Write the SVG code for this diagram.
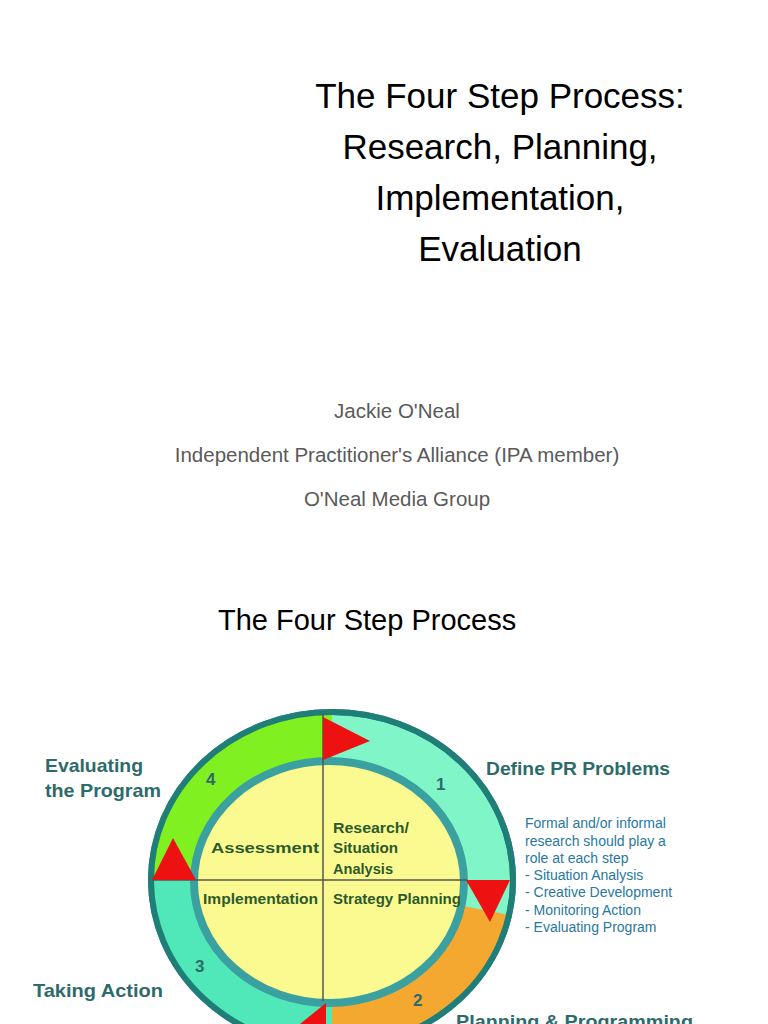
<svg xmlns="http://www.w3.org/2000/svg" width="768" height="1024" viewBox="0 0 768 1024">
<style>
.t{font-family:"Liberation Sans",Arial,sans-serif;fill:#000}
.s{font-family:"Liberation Sans",Arial,sans-serif;fill:#5a5a5a;font-size:20.5px}
.b{font-family:"Liberation Sans",Arial,sans-serif;font-weight:bold;fill:#2d6b6b}
.q{font-family:"Liberation Sans",Arial,sans-serif;font-weight:bold;fill:#2d5a2d;font-size:14px}
.n{font-family:"Liberation Sans",Arial,sans-serif;fill:#2878a0;font-size:14px}
.tri{fill:#ee1111}
</style>
<rect width="768" height="1024" fill="#fff"/>
<g id="title" class="t" font-size="35" text-anchor="middle">
<text x="500" y="108">The Four Step Process:</text>
<text x="500" y="159">Research, Planning,</text>
<text x="500" y="210">Implementation,</text>
<text x="500" y="261">Evaluation</text>
</g>
<g id="subtitle" class="s" text-anchor="middle">
<text x="397" y="418">Jackie O'Neal</text>
<text x="397" y="462">Independent Practitioner's Alliance (IPA member)</text>
<text x="397" y="506">O'Neal Media Group</text>
</g>
<text id="heading" class="t" x="218" y="630" font-size="29">The Four Step Process</text>
<g id="wheel">
<ellipse cx="332" cy="880" rx="181" ry="168" fill="#80f5c8" stroke="#1f7f78" stroke-width="6"/>
<path d="M332 880 L332 712 A181 168 0 0 0 151 880 Z" fill="#80f020"/>
<path d="M332 880 L151 880 A181 168 0 0 0 332 1048 Z" fill="#50e8b8"/>
<path d="M332 880 L509 915 A181 168 0 0 1 332 1048 Z" fill="#f5a830"/>
<ellipse cx="332" cy="880" rx="181" ry="168" fill="none" stroke="#1f7f78" stroke-width="6"/>
<ellipse cx="329" cy="882" rx="135" ry="121" fill="#fafa90" stroke="#3aa0a0" stroke-width="8"/>
<line x1="323" y1="714" x2="323" y2="1001" stroke="#555" stroke-width="1.5"/>
<line x1="152" y1="880" x2="467" y2="880" stroke="#555" stroke-width="1.5"/>
<polygon class="tri" points="323,717 370,741 323,760"/>
<polygon class="tri" points="152,880 196,880 173,838"/>
<polygon class="tri" points="466,880 510,880 490,922"/>
<polygon class="tri" points="326,1003 326,1024 300,1024"/>
<text class="q" x="211" y="853" textLength="108" lengthAdjust="spacingAndGlyphs">Assessment</text>
<text class="q" x="333" y="833" textLength="76" lengthAdjust="spacingAndGlyphs">Research/</text>
<text class="q" x="333" y="853" textLength="65" lengthAdjust="spacingAndGlyphs">Situation</text>
<text class="q" x="333" y="874" textLength="60" lengthAdjust="spacingAndGlyphs">Analysis</text>
<text class="q" x="203" y="904" textLength="115" lengthAdjust="spacingAndGlyphs">Implementation</text>
<text class="q" x="333" y="904" textLength="128" lengthAdjust="spacingAndGlyphs">Strategy Planning</text>
<text class="b" font-size="17" x="206" y="785">4</text>
<text class="b" font-size="17" x="436" y="790">1</text>
<text class="b" font-size="17" x="195" y="972">3</text>
<text class="b" font-size="17" x="413" y="1006">2</text>
</g>
<g id="labels" class="b" font-size="19">
<text x="45" y="772" textLength="98" lengthAdjust="spacingAndGlyphs">Evaluating</text>
<text x="45" y="797" textLength="116" lengthAdjust="spacingAndGlyphs">the Program</text>
<text x="486" y="775" textLength="184" lengthAdjust="spacingAndGlyphs">Define PR Problems</text>
<text x="33" y="997" textLength="130" lengthAdjust="spacingAndGlyphs">Taking Action</text>
<text x="456" y="1028" textLength="237" lengthAdjust="spacingAndGlyphs">Planning &amp; Programming</text>
</g>
<g id="note" class="n">
<text x="525" y="828">Formal and/or informal</text>
<text x="525" y="846">research should play a</text>
<text x="525" y="863">role at each step</text>
<text x="525" y="880">- Situation Analysis</text>
<text x="525" y="897">- Creative Development</text>
<text x="525" y="915">- Monitoring Action</text>
<text x="525" y="932">- Evaluating Program</text>
</g>
</svg>
